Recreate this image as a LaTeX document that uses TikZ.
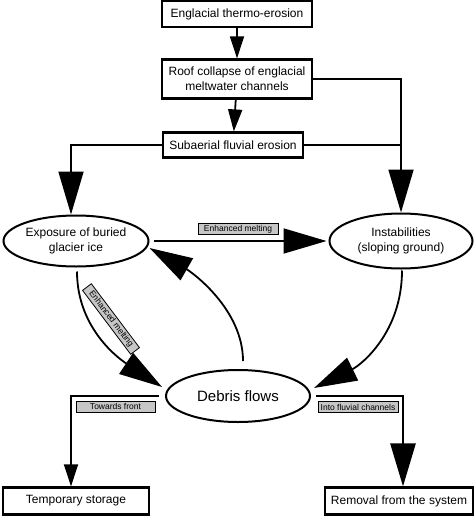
\documentclass[tikz,border=0pt]{standalone}
\usepackage{fontspec}
\setmainfont{Liberation Sans}
\usetikzlibrary{arrows.meta,shapes.geometric,calc}
\begin{document}
\begin{tikzpicture}[x=1pt,y=-1pt,
 box/.style={draw, line width=2.2pt, inner sep=0pt, align=center, font=\fontsize{12}{15}\selectfont},
 ell/.style={draw, ellipse, line width=2pt, inner sep=0pt, align=center, font=\fontsize{12}{15}\selectfont},
 conn/.style={line width=1.8pt},
 bigtip/.style={-{Triangle[length=43pt,width=25pt]}},
 smalltip/.style={-{Triangle[length=22pt,width=14pt]}},
 lab/.style={draw, fill=gray!45, line width=0.8pt, inner sep=1pt, minimum height=11pt, font=\fontsize{8.5}{9}\selectfont}
]
\useasboundingbox (0,0) rectangle (474,516);

\node[box, minimum width=150pt, minimum height=26pt] (b1) at (237,14) {Englacial thermo-erosion};
\node[box, minimum width=150pt, minimum height=39pt] (b2) at (237,79) {Roof collapse of englacial\\meltwater channels};
\node[box, minimum width=140pt, minimum height=25pt] (b3) at (233,145) {Subaerial fluvial erosion};
\node[ell, minimum width=145pt, minimum height=51pt] (expo) at (76,241) {Exposure of buried\\glacier ice};
\node[ell, minimum width=143pt, minimum height=55pt] (inst) at (401,241) {Instabilities\\(sloping ground)};
\node[ell, minimum width=144pt, minimum height=52pt, font=\fontsize{15}{18}\selectfont] (deb) at (238,396) {Debris flows};
\node[box, minimum width=146pt, minimum height=27pt] (ts) at (76,501) {Temporary storage};
\node[box, minimum width=148pt, minimum height=27pt] (rem) at (399,501) {Removal from the system};

% top chain
\draw[conn, smalltip] (b1) -- (b2);
\draw[conn, smalltip] (b2) -- (b3);
\draw[conn, bigtip] (b3.west) -| ($(expo.north)+(-5,0)$);
\draw[conn, bigtip] (b2.east) -| (inst.north);
\draw[conn] (b3.east) -- (b3.east -| inst.north);

% enhanced melting horizontal
\draw[conn, bigtip] ($(expo.east)+(4,0)$) -- ($(inst.west)+(-2,0)$);
\node[lab, minimum width=80pt] (lm1) at (238,229) {Enhanced melting};

% curves
\draw[conn, bigtip] ($(deb.north)+(5,-8)$) .. controls +(0,-52) and +(42,24) .. ($(expo.east)+(0,7)$);
\draw[conn, bigtip] ($(expo.south)+(1,4)$) .. controls +(0,60) and +(-38,-25) .. ($(deb.west)+(-3,-9)$);
\draw[conn, bigtip] ($(inst.south)+(1,1)$) .. controls +(0,62) and +(47,-23) .. ($(deb.east)+(3,-8)$);
\node[lab, rotate=-53, minimum width=80pt] (lm2) at (111,319) {Enhanced melting};

% outputs
\draw[conn, smalltip] ($(deb.west)+(-6,0)$) -| ($(ts.north)+(-5,0)$);
\node[lab, minimum width=79pt] (ltf) at (115.5,406.5) {Towards front};
\draw[conn, line width=2.6pt, bigtip] ($(deb.east)+(5,0)$) -| ($(rem.north)+(4,0)$);
\node[lab, minimum width=80pt] (lfc) at (358,407) {Into fluvial channels};
\end{tikzpicture}
\end{document}
